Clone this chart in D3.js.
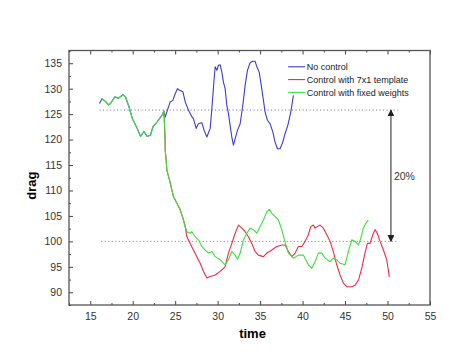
<!DOCTYPE html>
<html>
<head>
<meta charset="utf-8">
<script src="https://cdn.jsdelivr.net/npm/d3@7"></script>
<style>
  body { margin: 0; background: #fff; }
  svg { display: block; font-family: "Liberation Sans", Arial, sans-serif; }
</style>
</head>
<body>
<div id="chart"></div>
<script>
// Series (time, drag)
const earlyTime = [16.09, 16.38, 16.8, 17.15, 17.39, 17.9, 18.29, 18.85, 19.15, 19.55, 19.94, 20.53, 20.92, 21.32, 21.71, 22.09, 22.38, 22.88, 23.47, 23.67];
const earlyDrag = [127.1, 128.0, 127.5, 126.8, 127.1, 128.4, 128.1, 128.8, 128.4, 126.5, 124.2, 122.2, 120.6, 121.6, 120.6, 120.9, 122.5, 123.5, 124.8, 125.6];

const noCtrlTime = [23.82, 24.09, 24.41, 24.73, 25.0, 25.27, 25.51, 25.91, 26.18, 26.56, 26.96, 27.15, 27.47, 27.74, 28.14, 28.41, 28.73, 29.12, 29.32, 29.59, 29.71, 29.91, 30.09, 30.29, 30.49, 30.68, 30.88, 31.08, 31.27, 31.47, 31.67, 31.86, 32.06, 32.33, 32.65, 32.96, 33.24, 33.51, 33.82, 34.14, 34.41, 34.61, 34.88, 35.08, 35.39, 35.59, 35.86, 36.18, 36.49, 36.76, 37.04, 37.35, 37.67, 37.94, 38.26, 38.61, 38.92];
const noCtrlDrag = [124.4, 125.8, 127.4, 127.7, 129.0, 130.0, 129.7, 129.4, 127.4, 125.8, 124.5, 124.1, 122.2, 123.1, 123.3, 121.8, 120.5, 122.2, 126.1, 132.0, 134.3, 133.6, 134.6, 134.7, 133.3, 131.3, 130.0, 126.7, 125.1, 122.8, 120.5, 118.9, 120.2, 121.8, 123.1, 126.7, 130.7, 133.6, 135.1, 135.4, 135.4, 134.3, 133.3, 131.3, 127.7, 125.4, 123.8, 123.1, 121.5, 119.5, 118.2, 118.2, 119.5, 121.2, 122.8, 125.4, 128.7];

// shared drop once control starts
const dropTime = [23.67, 23.82, 23.82, 23.94, 24.02, 24.33, 24.8, 25.2, 25.59, 25.98, 26.18];
const dropDrag = [125.6, 119.9, 118.0, 116.0, 114.0, 112.1, 108.8, 107.5, 106.2, 104.2, 102.9];

const templTime = [26.38, 26.76, 27.15, 27.55, 27.94, 28.33, 28.73, 29.12, 29.71, 30.29, 30.88, 31.27, 31.67, 32.06, 32.45, 32.85, 33.24, 33.62, 34.02, 34.41, 34.8, 35.39, 35.79, 36.38, 36.96, 37.55, 37.94, 38.33, 38.73, 39.12, 39.51, 39.91, 40.29, 40.68, 40.96, 41.27, 41.47, 41.74, 42.06, 42.45, 42.85, 43.24, 43.62, 44.02, 44.41, 44.8, 45.2, 45.79, 46.18, 46.58, 46.96, 47.35, 47.62, 47.94, 48.33, 48.53, 48.8, 49.12, 49.51, 49.91, 50.21];
const templDrag = [100.9, 99.6, 98.3, 97.0, 95.7, 94.1, 92.8, 93.1, 93.4, 94.1, 95.0, 97.7, 99.6, 101.6, 103.2, 102.6, 101.9, 100.9, 99.6, 98.0, 97.3, 97.0, 97.7, 98.3, 99.0, 99.3, 99.3, 98.0, 97.0, 97.7, 99.0, 99.0, 100.0, 101.3, 102.9, 103.2, 102.6, 102.9, 103.2, 102.6, 101.3, 100.0, 98.0, 95.4, 93.4, 91.8, 91.1, 91.1, 91.4, 92.4, 94.7, 97.7, 99.6, 99.6, 101.6, 102.3, 101.6, 100.0, 98.3, 96.4, 93.0];

const fixedTime = [26.38, 26.76, 26.96, 27.35, 27.74, 28.14, 28.53, 28.92, 29.32, 29.71, 30.29, 30.88, 31.27, 31.67, 32.06, 32.33, 32.65, 33.04, 33.44, 33.82, 34.21, 34.61, 35.0, 35.39, 35.79, 36.09, 36.38, 36.76, 37.15, 37.55, 37.86, 38.33, 38.92, 39.51, 40.09, 40.68, 41.08, 41.47, 41.86, 42.26, 42.65, 43.24, 43.62, 44.02, 44.41, 45.0, 45.39, 45.79, 46.18, 46.58, 46.85, 47.15, 47.47, 47.74];
const fixedDrag = [101.9, 101.6, 101.9, 100.9, 100.3, 99.0, 98.3, 97.7, 98.0, 97.0, 96.4, 95.4, 96.4, 98.0, 97.3, 96.5, 97.7, 100.3, 101.6, 102.6, 102.3, 101.6, 102.9, 104.2, 105.8, 106.3, 105.5, 104.9, 104.2, 102.3, 100.3, 97.7, 96.7, 97.3, 97.3, 95.4, 94.7, 96.0, 97.7, 97.7, 96.7, 96.0, 96.7, 96.4, 95.7, 95.4, 98.0, 100.3, 100.0, 99.3, 100.6, 102.6, 103.6, 104.2];

const seriesNames = ["No control", "Control with 7x1 template", "Control with fixed weights"];
const seriesColors = ["#3b3bd6", "#ee2a44", "#3fdc3f"];

const xTicks = [15, 20, 25, 30, 35, 40, 45, 50, 55];
const yTicks = [90, 95, 100, 105, 110, 115, 120, 125, 130, 135];

// reference levels and the 20% span
const refLines = [
  { level: 125.8, from: 16.1, to: 51.2 },
  { level: 100, from: 16.3, to: 51.2 }
];
const spanTime = 50.4;
const spanLabel = "20%";

const zip = (ts, vs) => ts.map((t, i) => ({ t: t, v: vs[i] }));
const noCtrl = zip(earlyTime, earlyDrag).concat(zip(noCtrlTime, noCtrlDrag));
const templ = zip(dropTime, dropDrag).concat(zip(templTime, templDrag));
const fixed = zip(earlyTime.slice(1), earlyDrag.slice(1))
  .concat(zip(dropTime.slice(1), dropDrag.slice(1)))
  .concat(zip(fixedTime, fixedDrag));

const W = 474, H = 361;
const margin = { top: 50.5, right: 44, bottom: 56, left: 69 };
const width = W - margin.left - margin.right;
const height = H - margin.top - margin.bottom;

const svg = d3.select("#chart").append("svg")
  .attr("width", W)
  .attr("height", H);

const g = svg.append("g")
  .attr("transform", `translate(${margin.left},${margin.top})`);

const x = d3.scaleLinear().domain([12.5, 55]).range([0, width]);
const y = d3.scaleLinear().domain([87.5, 137.5]).range([height, 0]);

const minorX = d3.range(12.5, 55.01, 2.5).filter(v => v % 5 !== 0);
const minorY = d3.range(87.5, 137.51, 2.5).filter(v => v % 5 !== 0);

function styleAxis(sel) {
  sel.select(".domain").remove();
  sel.selectAll("line").attr("stroke", "#444");
  sel.selectAll("text")
    .attr("fill", "#333")
    .style("font-size", "10.5px")
    .style("font-family", "'Liberation Sans', Arial, sans-serif");
}

// bottom axis, ticks inward
g.append("g")
  .attr("transform", `translate(0,${height})`)
  .call(d3.axisBottom(x).tickValues(xTicks).tickSize(-4).tickPadding(8).tickFormat(d3.format("d")))
  .call(styleAxis);
g.append("g")
  .attr("transform", `translate(0,${height})`)
  .call(d3.axisBottom(x).tickValues(minorX).tickSize(-2).tickFormat(""))
  .call(styleAxis);

// top axis, ticks inward
g.append("g")
  .call(d3.axisTop(x).tickValues(xTicks).tickSize(-4).tickFormat(""))
  .call(styleAxis);
g.append("g")
  .call(d3.axisTop(x).tickValues(minorX).tickSize(-2).tickFormat(""))
  .call(styleAxis);

// left axis
g.append("g")
  .call(d3.axisLeft(y).tickValues(yTicks).tickSize(-4).tickPadding(7).tickFormat(d3.format("d")))
  .call(styleAxis);
g.append("g")
  .call(d3.axisLeft(y).tickValues(minorY).tickSize(-2).tickFormat(""))
  .call(styleAxis);

// frame
g.append("rect")
  .attr("x", 0)
  .attr("y", 0)
  .attr("width", width)
  .attr("height", height)
  .attr("fill", "none")
  .attr("stroke", "#555")
  .attr("stroke-width", 1.3);

// axis titles
g.append("text")
  .attr("x", width / 2 + 3)
  .attr("y", height + 33)
  .attr("text-anchor", "middle")
  .style("font-size", "13px")
  .style("font-weight", "bold")
  .text("time");

g.append("text")
  .attr("transform", "rotate(-90)")
  .attr("x", -(height / 2) - 8)
  .attr("y", -33)
  .attr("text-anchor", "middle")
  .style("font-size", "13px")
  .style("font-weight", "bold")
  .text("drag");

// dotted reference lines
g.selectAll(".ref")
  .data(refLines)
  .enter()
  .append("line")
  .attr("class", "ref")
  .attr("x1", d => x(d.from))
  .attr("x2", d => x(d.to))
  .attr("y1", d => y(d.level))
  .attr("y2", d => y(d.level))
  .attr("stroke", (d, i) => i === 0 ? "#6a6a9a" : "#777")
  .attr("stroke-width", 1)
  .attr("stroke-dasharray", "1,2.5");

// the curves
const line = d3.line()
  .x(d => x(d.t))
  .y(d => y(d.v));

[noCtrl, templ, fixed].forEach((data, i) => {
  g.append("path")
    .datum(data)
    .attr("fill", "none")
    .attr("stroke", seriesColors[i])
    .attr("stroke-width", 1.1)
    .attr("stroke-linejoin", "round")
    .attr("d", line);
});

// double arrow for the 20% span
const defs = svg.append("defs");
defs.append("marker")
  .attr("id", "head")
  .attr("viewBox", "0 0 10 10")
  .attr("refX", 9)
  .attr("refY", 5)
  .attr("markerWidth", 7)
  .attr("markerHeight", 7)
  .attr("markerUnits", "userSpaceOnUse")
  .attr("orient", "auto-start-reverse")
  .append("path")
  .attr("d", "M0,0 L10,5 L0,10 Z")
  .attr("fill", "#222");

g.append("line")
  .attr("x1", x(spanTime))
  .attr("x2", x(spanTime))
  .attr("y1", y(refLines[0].level))
  .attr("y2", y(refLines[1].level))
  .attr("stroke", "#444")
  .attr("stroke-width", 1.2)
  .attr("marker-start", "url(#head)")
  .attr("marker-end", "url(#head)");

g.append("text")
  .attr("x", x(spanTime) + 3)
  .attr("y", y((refLines[0].level + refLines[1].level) / 2) + 4)
  .attr("fill", "#333")
  .style("font-size", "10.5px")
  .text(spanLabel);

// legend
const legend = g.append("g")
  .attr("transform", `translate(${x(38.3)},${y(134.3)})`);

seriesNames.forEach((name, i) => {
  const row = legend.append("g").attr("transform", `translate(0,${i * 12.8})`);
  row.append("line")
    .attr("x1", 0)
    .attr("x2", 17)
    .attr("stroke", seriesColors[i])
    .attr("stroke-width", 1.1);
  row.append("text")
    .attr("x", 18.5)
    .attr("y", 3.2)
    .attr("fill", "#222")
    .style("font-size", "9px")
    .text(name);
});
</script>
</body>
</html>
